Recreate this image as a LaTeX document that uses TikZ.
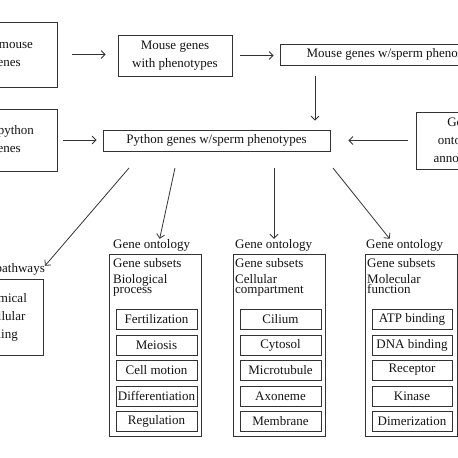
\documentclass[tikz,border=0pt]{standalone}
\usepackage{fontspec}
\setmainfont{Liberation Serif}
\usetikzlibrary{arrows.meta}
\begin{document}
\begin{tikzpicture}[x=1pt,y=-1pt,
  every node/.style={font=\fontsize{13}{18}\selectfont, text=black!92, inner sep=0pt},
  box/.style={draw=black!80, line width=0.8pt, align=center},
  inbox/.style={box, minimum width=81pt, minimum height=20pt},
  outbox/.style={draw=black!80, line width=0.8pt, minimum width=92pt, minimum height=182pt},
  lbl/.style={anchor=base west},
  tight/.style={anchor=base west, align=left, font=\fontsize{13}{10.5}\selectfont},
  arr/.style={draw=black!80, line width=0.8pt, -{Straight Barb[length=4pt,width=8pt]}},
]
\useasboundingbox (0,0) rectangle (458,458);
\clip (0,0) rectangle (458,458);
\fill[white] (0,0) rectangle (458,458);

% top row
\node[box, minimum width=102pt, minimum height=65pt] (A) at (6,54.5) {All mouse\\genes};
\node[box, minimum width=114pt, minimum height=41pt] (B) at (175,55.5) {Mouse genes\\with phenotypes};
\node[box, minimum width=232pt, minimum height=21pt] (C) at (396,54.5) {Mouse genes w/sperm phenotypes};

% middle row
\node[box, minimum width=102pt, minimum height=62pt] (D) at (6,140) {All python\\genes};
\node[box, minimum width=227pt, minimum height=21pt] (E) at (216.5,140.5) {Python genes w/sperm phenotypes};
\node[box, minimum width=90pt, minimum height=57pt] (F) at (461,140.5) {Gene\\ontology\\annotation};

% pathways
\node[anchor=base east] (plab) at (45,272) {Canonical pathways};
\node[box, minimum width=98pt, minimum height=76pt] (P) at (-6,317) {Biochemical\\intracellular\\signaling};

% GO column 1
\node[lbl] (go1) at (113,248) {Gene ontology};
\node[outbox] (O1) at (155,345) {};
\node[lbl] (g1a) at (113,267) {Gene subsets};
\node[tight] (g1b) at (113,293.5) {Biological\\process};
\node[inbox] (b11) at (156.5,319) {Fertilization};
\node[inbox] (b12) at (156.5,345) {Meiosis};
\node[inbox] (b13) at (156.5,370) {Cell motion};
\node[inbox] (b14) at (156.5,396) {Differentiation};
\node[inbox] (b15) at (156.5,421) {Regulation};

% GO column 2
\node[lbl] (go2) at (235,248) {Gene ontology};
\node[outbox] (O2) at (279,345) {};
\node[lbl] (g2a) at (235,267) {Gene subsets};
\node[tight] (g2b) at (235,293.5) {Cellular\\compartment};
\node[inbox] (b21) at (280.5,319) {Cilium};
\node[inbox] (b22) at (280.5,345) {Cytosol};
\node[inbox] (b23) at (280.5,370) {Microtubule};
\node[inbox] (b24) at (280.5,396) {Axoneme};
\node[inbox] (b25) at (280.5,421) {Membrane};

% GO column 3
\node[lbl] (go3) at (366,248) {Gene ontology};
\node[outbox] (O3) at (411,345) {};
\node[lbl] (g3a) at (367,267) {Gene subsets};
\node[tight] (g3b) at (367,293.5) {Molecular\\function};
\node[inbox, minimum width=80pt] (b31) at (412,319) {ATP binding};
\node[inbox, minimum width=80pt] (b32) at (412,345) {DNA binding};
\node[inbox, minimum width=80pt] (b33) at (412,370) {Receptor};
\node[inbox, minimum width=80pt] (b34) at (412,396) {Kinase};
\node[inbox, minimum width=80pt] (b35) at (412,421) {Dimerization};

% connectors
\draw[arr, shorten <=15pt, shorten >=12pt] (A.east) -- (A.east -| B.west);
\draw[arr, shorten <=8pt, shorten >=6pt] (B.east) -- (B.east -| C.west);
\draw[arr, shorten <=11pt, shorten >=9pt] ([xshift=-81pt]C.south) -- ([xshift=-81pt]C.south |- E.north);
\draw[arr, shorten <=6pt, shorten >=6pt] (D.east) -- (D.east -| E.west);
\draw[arr, shorten <=8pt, shorten >=18pt] (F.west) -- (F.west -| E.east);

\coordinate (s1) at (129,168);
\coordinate (s2) at (175,168);
\coordinate (s3) at (274,168);
\coordinate (s4) at (333,168);
\draw[arr] (s1) -- ([yshift=-3pt]plab.north east);
\draw[arr] (s2) -- ([xshift=8pt]go1.north);
\draw[arr] (s3) -- (s3 |- go2.north);
\draw[arr] (s4) -- ([xshift=-15pt]go3.north);
\end{tikzpicture}
\end{document}
